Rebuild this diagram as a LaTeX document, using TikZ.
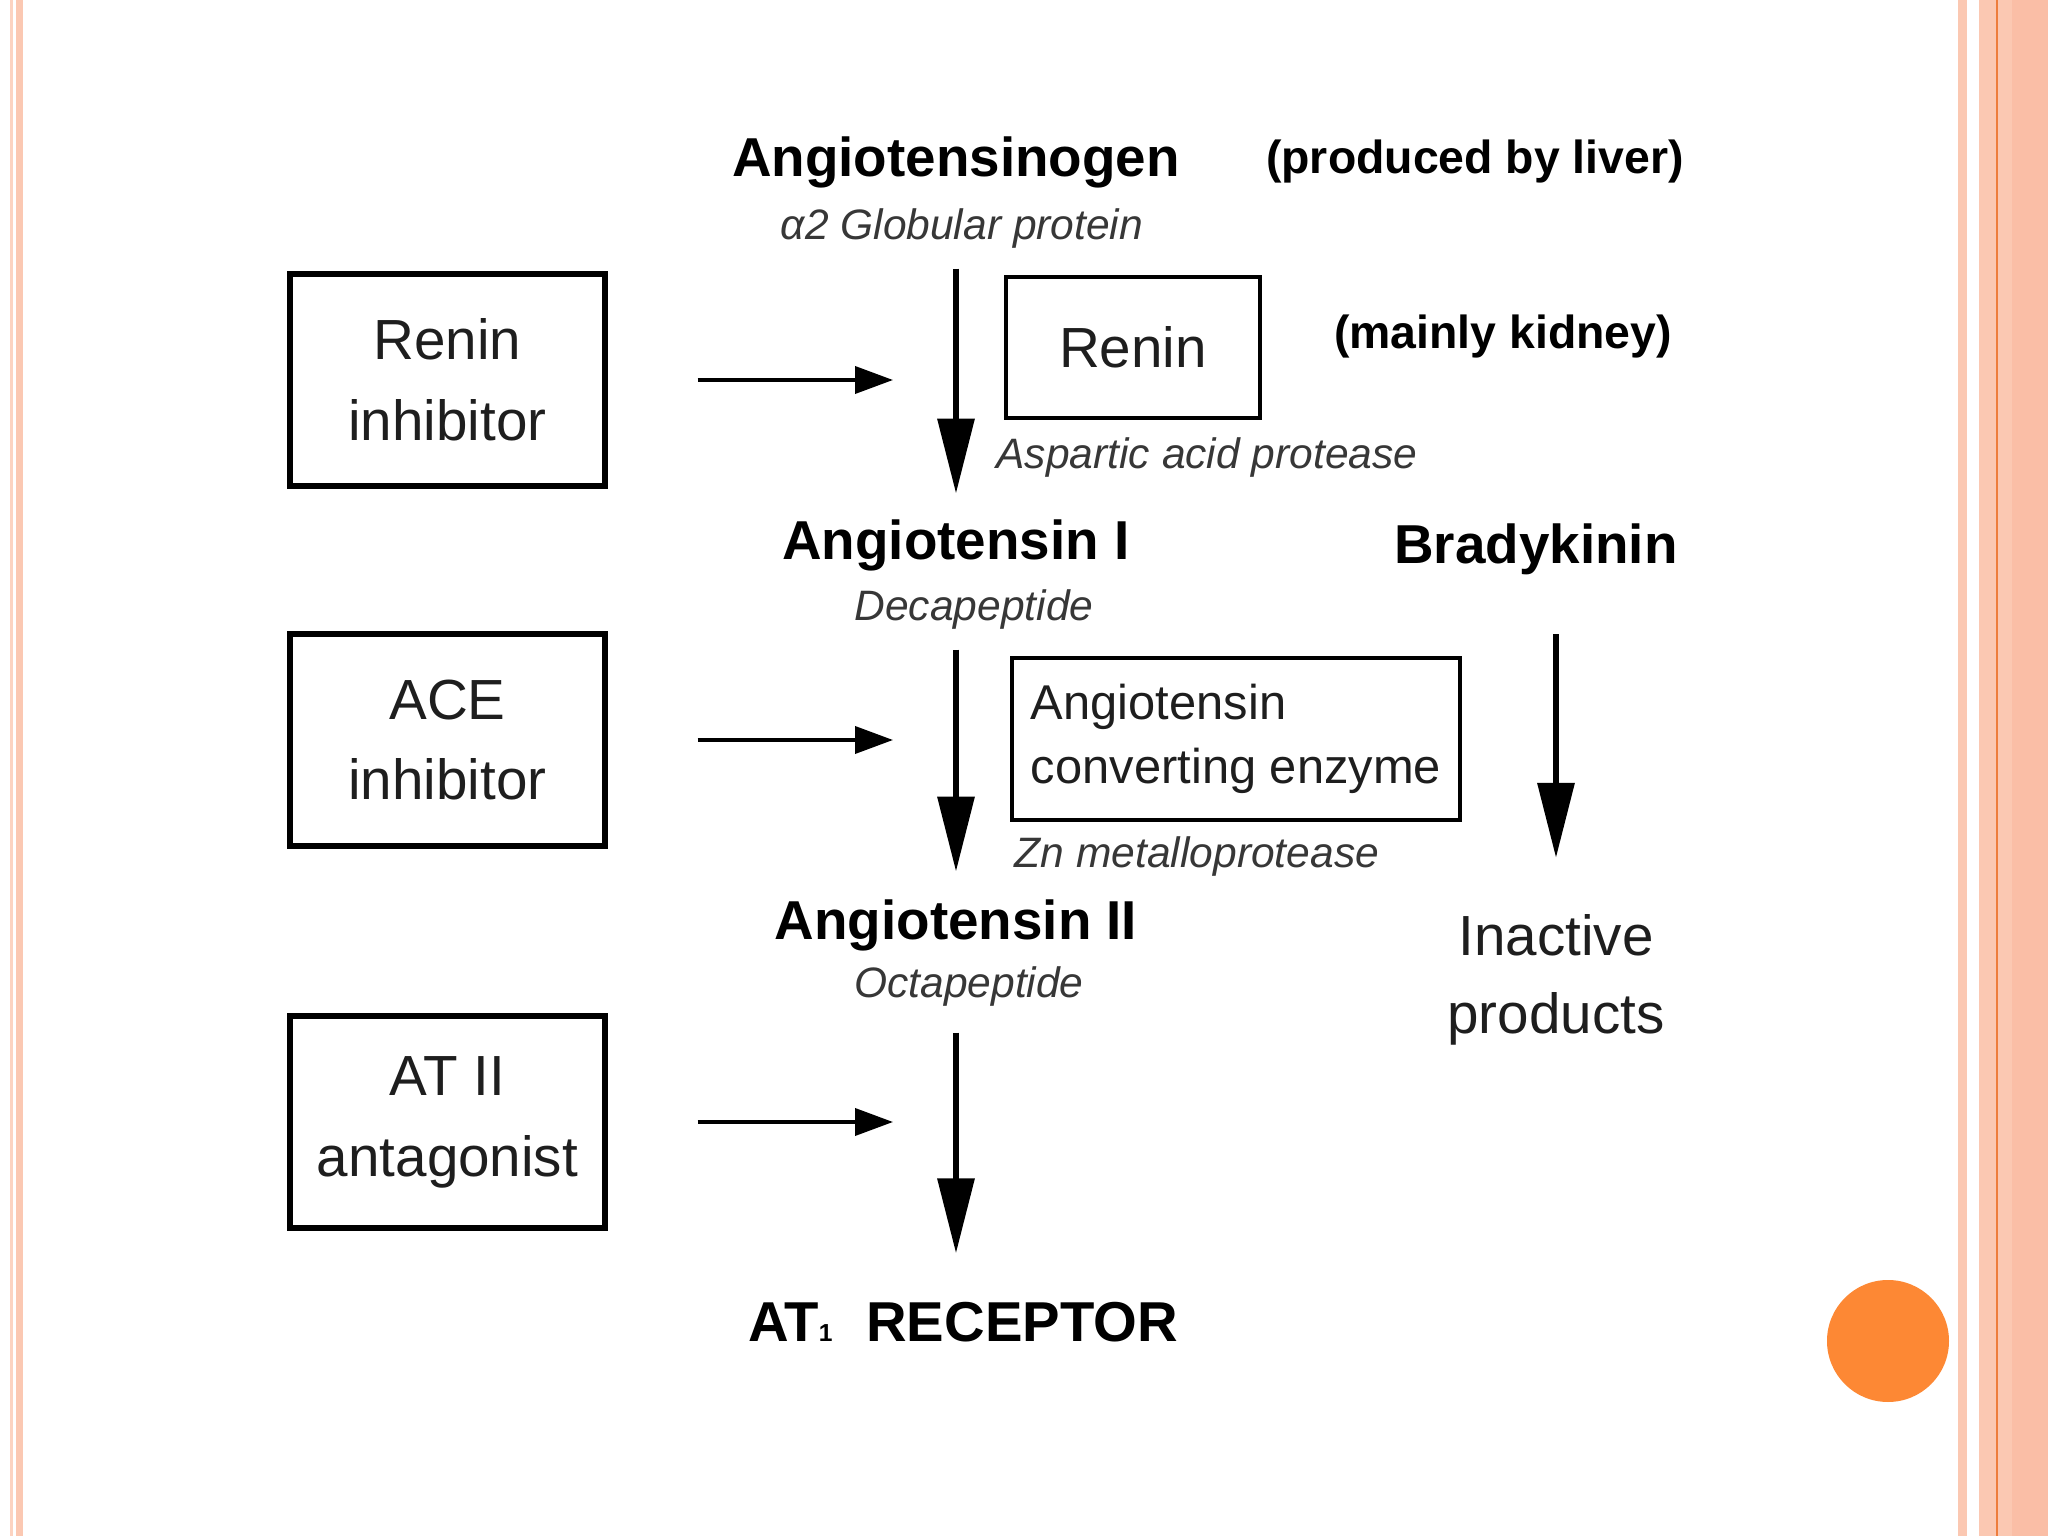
\documentclass[tikz,border=0pt]{standalone}
\usepackage{fontspec}
\setmainfont{Liberation Sans}
\usepackage{xcolor}
\usepackage{tikz}
\usetikzlibrary{arrows.meta,positioning}
\definecolor{slidepeach}{RGB}{251,200,178}
\definecolor{slidepeachdk}{RGB}{250,190,166}
\definecolor{slideorange}{RGB}{253,136,52}
\definecolor{slideline}{RGB}{238,125,60}
\definecolor{notegray}{RGB}{55,55,55}
\definecolor{boxtext}{RGB}{30,30,30}

\begin{document}
\begin{tikzpicture}[
    title/.style={inner sep=0pt, font=\fontsize{15.6}{18}\selectfont\bfseries},
    note/.style={inner sep=0pt, font=\fontsize{13.2}{16}\selectfont\bfseries},
    subnote/.style={inner sep=0pt, text=notegray, font=\fontsize{12.1}{14}\selectfont\itshape},
    inhbox/.style={rectangle, draw, line width=1.5pt, minimum width=3.15cm, minimum height=2.12cm, align=center, text=boxtext, font=\fontsize{16.1}{23}\selectfont},
    enzbox/.style={rectangle, draw, line width=1.4pt, text=boxtext},
    varrow/.style={-{Triangle[length=0.75cm,width=0.36cm]}, line width=1.8pt},
    harrow/.style={-{Triangle[length=0.38cm,width=0.27cm]}, line width=1.1pt}
]
\useasboundingbox (0,0) rectangle (20.48,-15.36);

% Slide
\fill[white] (0,0) rectangle (20.48,-15.36);
\fill[slidepeach!80] (0.10,0) rectangle (0.13,-15.36);
\fill[slidepeach] (0.16,0) rectangle (0.23,-15.36);
\fill[slidepeach] (19.58,0) rectangle (19.67,-15.36);
\fill[slidepeach] (19.79,0) rectangle (20.48,-15.36);
\fill[slidepeachdk] (20.12,0) rectangle (20.48,-15.36);
\fill[slideline] (19.955,0) rectangle (19.975,-15.36);
\fill[slideorange] (18.88,-13.41) circle (0.61cm);

% Cascade
\node[title] (angio) at (9.56,-1.62) {Angiotensinogen};
\node[subnote] (glob) at (9.62,-2.29) {α2 Globular protein};
\node[title] (ang1) at (9.56,-5.45) {Angiotensin I};
\node[subnote] (deca) at (9.74,-6.10) {Decapeptide};
\node[title] (ang2) at (9.56,-9.25) {Angiotensin II};
\node[subnote] (octa) at (9.69,-9.87) {Octapeptide};
\node[inner sep=0pt, font=\fontsize{16}{18}\selectfont\bfseries] (at1) at (9.63,-13.22)
    {AT{\fontsize{7}{7}\selectfont 1}\hspace{0.6em}RECEPTOR};

% Enzymes
\node[enzbox, minimum width=2.54cm, minimum height=1.41cm, font=\fontsize{16.1}{23}\selectfont] (renin) at (11.33,-3.475) {Renin};
\node[subnote] (asp) at (12.07,-4.58) {Aspartic acid protease};
\node[enzbox, minimum width=4.48cm, minimum height=1.62cm, align=left, font=\fontsize{13.9}{18.2}\selectfont] (ace) at (12.36,-7.39)
    {Angiotensin\\converting enzyme};
\node[subnote] (zn) at (11.97,-8.57) {Zn metalloprotease};

% Notes
\node[note] (liver) at (14.75,-1.62) {(produced by liver)};
\node[note] (kidney) at (15.03,-3.37) {(mainly kidney)};
\node[title] (brady) at (15.36,-5.49) {Bradykinin};
\node[inner sep=0pt, align=center, text=boxtext, font=\fontsize{16.1}{22.2}\selectfont] (inact) at (15.56,-9.80)
    {Inactive\\products};

% Blockers
\node[inhbox] (rinh) at (4.475,-3.80) {Renin\\inhibitor};
\node[inhbox] (aceinh) at (4.475,-7.40) {ACE\\inhibitor};
\node[inhbox] (atinh) at (4.475,-11.22) {AT II\\antagonist};

% Arrows
\draw[varrow, shorten <=0.19cm, shorten >=0.25cm] (glob.south -| ang1) -- (ang1.north);
\draw[varrow, shorten <=0.19cm, shorten >=0.27cm] (deca.south -| ang1) -- (ang2.north);
\draw[varrow, shorten <=0.25cm, shorten >=0.48cm] (octa.south -| ang2) -- (at1.north -| ang2);
\draw[varrow, shorten <=0.59cm, shorten >=0.56cm] (brady.south -| inact) -- (inact.north);

\foreach \b in {rinh,aceinh,atinh} {
    \draw[harrow, shorten <=0.9cm, shorten >=0.63cm] (\b.east) -- (\b.east -| ang1);
}

\end{tikzpicture}
\end{document}
